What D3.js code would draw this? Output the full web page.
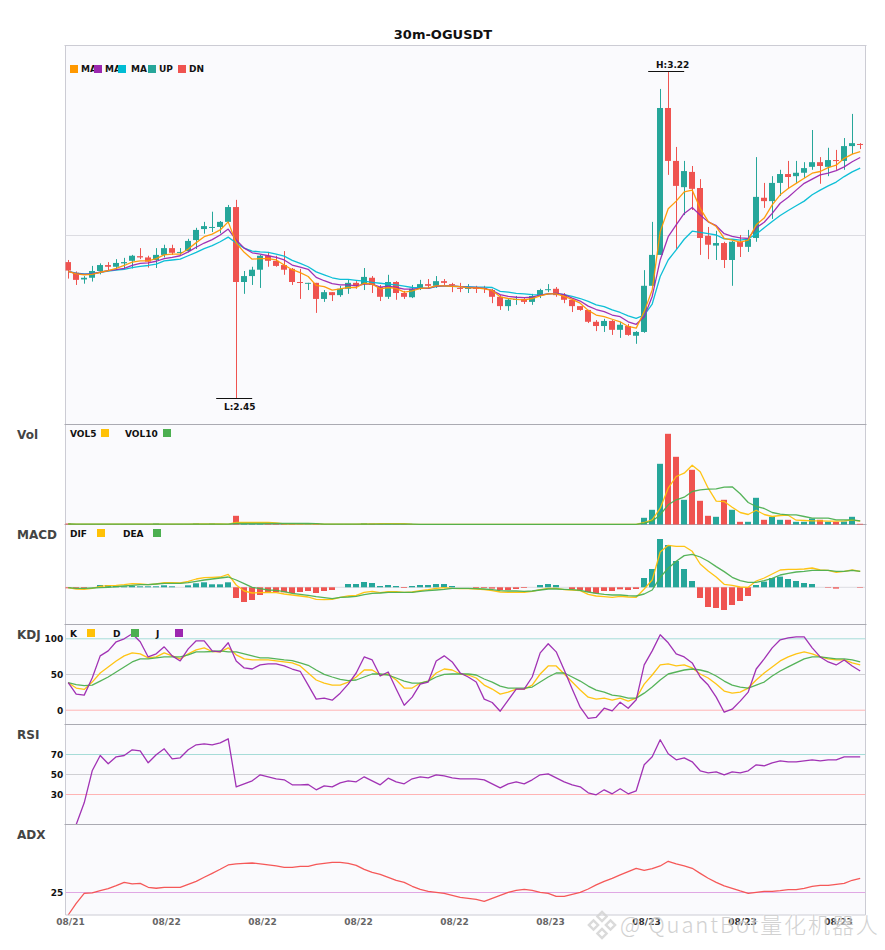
<!DOCTYPE html>
<html>
<head>
<meta charset="utf-8">
<script src="https://cdn.jsdelivr.net/npm/d3@7"></script>
<style>
  html, body { margin: 0; padding: 0; background: #fff; }
  text { font-family: "DejaVu Sans", sans-serif; }
</style>
</head>
<body>
<div id="chart"></div>
<script>
// 30 minute candles
const opens = [2.771,2.746,2.730,2.734,2.750,2.764,2.760,2.768,2.774,2.785,
  2.782,2.776,2.788,2.804,2.793,2.797,2.823,2.849,2.852,2.854,
  2.866,2.901,2.724,2.738,2.753,2.786,2.774,2.764,2.755,2.724,
  2.720,2.722,2.684,2.700,2.693,2.708,2.722,2.719,2.734,2.712,
  2.689,2.724,2.698,2.688,2.708,2.719,2.715,2.726,2.719,2.710,
  2.708,2.710,2.710,2.705,2.689,2.667,2.682,2.684,2.677,2.691,
  2.705,2.708,2.693,2.682,2.667,2.658,2.630,2.620,2.632,2.611,
  2.620,2.597,2.606,2.715,2.788,3.135,3.010,2.948,2.984,2.946,
  2.833,2.810,2.816,2.776,2.819,2.807,2.828,2.923,2.915,2.958,
  2.979,2.974,2.982,2.996,3.007,2.996,3.012,3.010,3.045,3.050];
const closes = [2.751,2.729,2.734,2.750,2.764,2.760,2.769,2.771,2.786,2.782,
  2.772,2.788,2.804,2.793,2.795,2.821,2.847,2.856,2.854,2.866,
  2.901,2.724,2.738,2.753,2.786,2.774,2.762,2.753,2.724,2.722,
  2.722,2.684,2.700,2.693,2.708,2.722,2.715,2.736,2.717,2.689,
  2.724,2.698,2.689,2.708,2.719,2.715,2.726,2.722,2.717,2.708,
  2.710,2.708,2.708,2.689,2.667,2.682,2.684,2.677,2.691,2.705,
  2.707,2.693,2.682,2.667,2.658,2.630,2.620,2.632,2.611,2.623,
  2.599,2.606,2.715,2.788,3.135,3.010,2.951,2.986,2.944,2.828,
  2.812,2.816,2.776,2.819,2.807,2.826,2.925,2.915,2.958,2.979,
  2.972,2.982,2.993,3.007,2.998,3.012,3.010,3.045,3.052,3.048];
const highs = [2.776,2.749,2.738,2.762,2.768,2.771,2.778,2.781,2.788,2.804,
  2.786,2.804,2.812,2.812,2.804,2.826,2.852,2.866,2.890,2.868,
  2.906,2.918,2.750,2.760,2.788,2.795,2.786,2.797,2.757,2.755,
  2.722,2.722,2.705,2.700,2.715,2.729,2.726,2.757,2.738,2.717,
  2.741,2.726,2.703,2.717,2.729,2.731,2.738,2.731,2.722,2.722,
  2.719,2.715,2.715,2.708,2.693,2.684,2.691,2.686,2.696,2.708,
  2.719,2.712,2.698,2.684,2.667,2.658,2.634,2.637,2.634,2.630,
  2.625,2.608,2.752,2.866,3.180,3.220,3.043,3.010,2.998,2.967,
  2.854,2.845,2.819,2.821,2.835,2.847,3.019,2.958,2.974,2.989,
  3.010,3.010,3.007,3.083,3.019,3.041,3.036,3.064,3.121,3.052];
const lows = [2.732,2.717,2.720,2.725,2.742,2.751,2.753,2.756,2.756,2.778,
  2.758,2.757,2.782,2.788,2.788,2.794,2.802,2.838,2.842,2.839,
  2.863,2.450,2.696,2.717,2.710,2.760,2.760,2.741,2.717,2.684,
  2.705,2.651,2.677,2.679,2.689,2.696,2.708,2.705,2.698,2.679,
  2.684,2.682,2.684,2.686,2.705,2.710,2.710,2.717,2.700,2.700,
  2.698,2.698,2.698,2.674,2.658,2.656,2.670,2.672,2.670,2.686,
  2.700,2.689,2.674,2.653,2.656,2.627,2.608,2.606,2.599,2.592,
  2.597,2.578,2.604,2.714,2.788,2.977,2.802,2.882,2.894,2.788,
  2.778,2.776,2.757,2.715,2.783,2.795,2.819,2.899,2.873,2.927,
  2.944,2.958,2.970,2.989,2.956,2.974,2.989,2.989,3.026,3.038];

const ma5 = [2.749,2.743,2.741,2.742,2.747,2.751,2.756,2.763,2.771,2.774,
  2.774,2.779,2.788,2.790,2.790,2.802,2.817,2.831,2.837,2.847,
  2.866,2.816,2.794,2.778,2.779,2.779,2.776,2.764,2.753,2.746,
  2.737,2.716,2.713,2.705,2.708,2.711,2.711,2.721,2.719,2.708,
  2.711,2.709,2.700,2.703,2.709,2.710,2.715,2.715,2.714,2.713,
  2.710,2.710,2.708,2.704,2.689,2.685,2.683,2.682,2.685,2.691,
  2.696,2.696,2.690,2.683,2.674,2.657,2.646,2.642,2.636,2.630,
  2.619,2.615,2.654,2.705,2.843,2.897,2.915,2.937,2.941,2.898,
  2.867,2.855,2.827,2.823,2.818,2.823,2.859,2.875,2.906,2.930,
  2.945,2.957,2.969,2.981,2.985,2.994,3.000,3.016,3.026,3.032];
const ma10 = [2.749,2.744,2.742,2.743,2.747,2.751,2.753,2.756,2.763,2.768,
  2.769,2.773,2.779,2.782,2.786,2.795,2.806,2.816,2.824,2.835,
  2.849,2.823,2.804,2.793,2.790,2.786,2.782,2.776,2.764,2.759,
  2.754,2.735,2.727,2.720,2.717,2.717,2.715,2.719,2.719,2.712,
  2.714,2.711,2.707,2.707,2.709,2.709,2.714,2.715,2.715,2.713,
  2.711,2.711,2.709,2.704,2.694,2.690,2.688,2.687,2.688,2.693,
  2.696,2.697,2.694,2.686,2.679,2.667,2.659,2.654,2.646,2.642,
  2.630,2.624,2.642,2.690,2.776,2.831,2.859,2.886,2.900,2.882,
  2.866,2.857,2.838,2.832,2.828,2.827,2.852,2.865,2.886,2.910,
  2.924,2.941,2.957,2.967,2.977,2.981,2.987,2.996,3.008,3.018];
const ma20 = [2.749,2.745,2.743,2.744,2.747,2.750,2.752,2.754,2.758,2.761,
  2.763,2.766,2.774,2.776,2.778,2.786,2.794,2.803,2.810,2.819,
  2.830,2.816,2.804,2.797,2.795,2.794,2.790,2.785,2.775,2.768,
  2.760,2.748,2.741,2.734,2.730,2.730,2.728,2.726,2.723,2.721,
  2.719,2.717,2.714,2.711,2.710,2.709,2.713,2.715,2.714,2.713,
  2.713,2.712,2.712,2.711,2.702,2.700,2.697,2.696,2.694,2.693,
  2.696,2.697,2.694,2.690,2.685,2.678,2.670,2.666,2.658,2.652,
  2.644,2.638,2.646,2.672,2.737,2.776,2.800,2.825,2.844,2.841,
  2.838,2.835,2.826,2.825,2.823,2.826,2.837,2.852,2.867,2.881,
  2.893,2.904,2.915,2.930,2.941,2.951,2.960,2.973,2.984,2.993];

// volume, no axis in the picture so in arbitrary units
const vol = [1,.3,.3,.3,.3,.3,.3,.3,.3,.3,
  .3,1,.3,.3,.3,.3,1,.3,1,.3,
  .3,8.7,.6,.6,.6,.6,.6,.6,.6,.3,
  .3,1,.3,.3,.3,.3,.3,1.2,.8,.2,
  .2,.2,.2,.2,.2,.2,.2,.2,.2,.2,
  .2,.2,.2,.2,.2,.2,.2,.2,.2,.2,
  .2,.2,.2,.2,.2,.2,.2,.2,.2,.2,
  .2,.2,6.7,14.7,60.7,90.7,67.7,24.7,54.7,23.7,
  8.7,7.7,24.7,14.7,2.7,2.7,26.7,4.7,7.7,4.7,
  4.7,2.7,2.7,6,4.7,2.7,2.7,3,7.7,.7];
const vol5 = [.5,.3,.3,.3,.3,.3,.3,.3,.3,.3,
  .3,.3,.3,.3,.3,.3,.5,.5,.5,.5,
  .3,2,2,2.1,2.2,2.2,1.7,.6,.6,.6,
  .6,.8,.4,.3,.3,.3,.3,.5,.6,.9,
  .9,.9,.8,.3,.2,.2,.2,.2,.2,.2,
  .2,.2,.2,.2,.2,.2,.2,.2,.2,.2,
  .2,.2,.2,.2,.2,.2,.2,.2,.2,.2,
  .2,.2,2,4.7,16.3,36.3,48,51.3,59.3,52.7,
  36.3,23.3,23,17.3,12,10,14.3,10,8,9,
  9.3,4.3,4,3.7,3.7,3.3,3.3,3.7,4.3,3.3];
const vol10 = [.5,.3,.3,.3,.3,.3,.3,.3,.3,.3,
  .3,.3,.3,.3,.3,.3,.3,.3,.3,.3,
  .3,1,1,1,1,1,1,1,1,1,
  1,.8,.3,.3,.3,.3,.3,.3,.4,.4,
  .4,.4,.4,.3,.2,.2,.2,.2,.2,.2,
  .2,.2,.2,.2,.2,.2,.2,.2,.2,.2,
  .2,.2,.2,.2,.2,.2,.2,.2,.2,.2,
  .2,.2,1.3,3.3,9.7,19.7,24.7,27.3,33,34.7,
  35.3,35.7,37.3,37.7,30.7,22,18,16,12,10.3,
  9.7,9.7,8,6.3,6.3,6.3,4.7,4.7,4.7,3.7];

// macd in thousandths-ish units, zero is not centred in the panel
const macdHist = [-1,-1,-1,0,2.3,2.3,1.5,1,1.5,1,
  1,1,2,1,0,2,4,5,3,3,
  5,-10.7,-14.7,-12.7,-7.7,-5,-5,-5,-5.7,-4.7,
  -3.7,-5.7,-3.7,-2.7,0,3.3,3.3,5.3,4.3,1.3,
  2.3,1.3,-.7,1.3,2.3,2.3,3.3,3.3,1.3,0,
  0,-.7,-.7,-1.3,-2.7,-2.7,-1.7,-.7,0,2.3,
  3.3,2.3,0,-2,-2.7,-4.7,-6,-3.7,-3.7,-2,
  -2.7,-1.7,9.3,18.3,48.3,42.3,26.3,18.3,6.3,-10.7,
  -19.7,-20.7,-22.7,-17.7,-13.7,-8.7,2.3,5.7,9.3,10.7,
  8.3,6.3,4.3,3.3,0,-.5,-1.3,0,0,-.5];
const dif = [-.3,-1.7,-2,-1,1,1.7,2,2.7,3.7,3.3,
  2.7,3.3,4.7,4.7,4.3,6,8.3,9.7,10,10.3,
  13,2.3,-3.7,-5.7,-5.3,-5,-5.3,-6.7,-7.7,-8.7,
  -9.7,-12,-12.3,-12,-10,-8.7,-8,-5,-4,-5.3,
  -4.3,-4.3,-5,-4.7,-3.3,-2.3,-1,-.3,-1,-1.3,
  -1.3,-1.7,-2.3,-3.3,-4.7,-5,-5,-5,-4,-2.3,
  -1,-1,-2.3,-2.7,-3.3,-7,-8.7,-9.3,-10,-9,
  -9.7,-10,-1.7,7.3,35.3,42,41,41,36,23.3,
  16.3,10.3,3,2,.3,0,6.3,9.3,13.3,17.3,
  18,18,18.3,19.3,17.3,17,15,16,17.3,16];
const dea = [-.3,-1,-1,-.7,-.3,0,.7,1.3,2,2.7,
  2.7,3.3,4,4,4,4.7,6,7.3,8.3,9.3,
  10.3,7.3,3.7,0,-1.3,-2.7,-3,-4.3,-6,-7,
  -8,-9.3,-10.3,-11.3,-10,-9.7,-9,-7.3,-6,-5.7,
  -5,-5,-5,-5,-4,-3.3,-2.7,-2,-1,-1,
  -1,-1.3,-1.7,-2.3,-3.3,-3.7,-3.7,-4,-3.7,-2.7,
  -1.7,-1.7,-2,-2.3,-3,-4.7,-6,-7,-7.7,-7.7,
  -8.3,-8.7,-6.7,-2.7,10,19,26,31.7,33,30.3,
  26,20.7,15.7,10,6.7,5,5,6.7,9,12.3,
  14,15.3,16,17,17,17,16,16,17,16];

const kdjK = [38.5,31,29.1,39.4,52.1,60.6,69,76.1,80.3,78.9,
  73.2,74.6,80.3,76.1,71.8,78.9,84.5,87.3,82.2,81.7,
  87.3,77.5,71.8,70.4,70.4,70.4,69,67.6,66.2,62,
  52.1,42.3,38,35.2,35.2,39.4,46.5,56.3,56.3,49.3,
  50.7,42.3,31,31,38,40.8,52.1,57.7,56.3,50.7,
  49.3,45.1,35.2,29.6,22.5,25.4,29.6,29.6,35.2,50.7,
  62,62,50.7,39.4,28.2,18.3,15.5,16.9,14.1,16.9,
  12.7,16.9,36.6,49.3,63.4,64.8,62,63.4,59.2,50.7,
  45.1,36.6,26.8,23.9,25.4,31,42.3,52.1,60.6,69,
  74.6,78.9,81.7,78.9,74.6,71.8,70.4,70.4,66.2,63.4];
const kdjD = [38.5,35.7,34.3,35.2,40.8,46.5,53.5,60.6,67.6,71.8,
  71.8,73.2,74.6,74.6,74.6,77.5,81.7,81.7,82.2,83.1,
  81.7,81.7,78.9,76.1,73.2,73.2,71.8,70.4,69.5,66.2,
  62.9,56.3,50.2,46.5,43.2,41.3,42.3,46.5,50.7,50.7,
  49.3,45.1,40.8,38,38,40.8,46.5,50.2,50.7,50.7,
  50.7,49.3,43.7,39.4,33.8,31,31,31,32.4,39.4,
  46.5,52.1,52.1,46.5,40.8,33.8,28.2,25.4,21.1,19.7,
  16.9,16.9,23.9,32.4,42.3,50.7,53.5,56.3,57.7,56.3,
  53.5,47.9,40.8,35.2,32.4,31,35.2,39.4,47.9,54.9,
  60.6,66.2,71.8,74.6,74.6,73.2,71.8,71.8,70.4,67.6];
const kdjJ = [38.5,22.5,21.1,45.1,76.1,83.1,95.8,100,107,95.8,
  74.6,78.9,88.7,76.1,69,85.9,97.2,97.2,83.1,81.7,
  94.4,69,59.2,57.7,63.4,64.8,64.8,62,57.7,54.5,
  35.2,15.5,16.9,14.1,23.9,36.6,52.1,74.6,70.4,47.9,
  53.5,29.6,7,18.3,36.6,39.4,69,76.1,67.6,52.1,
  46.5,39.4,15.5,10.8,-1.4,14.1,29.6,29.6,46.5,80.3,
  93,81.7,56.3,29.6,4.2,-11.3,-9.9,2.8,-.9,11.3,
  2.8,14.6,63.4,83.1,105.6,94.4,78.9,74.6,66.2,46.5,
  35.2,18.3,-2.8,1.4,12.7,25.4,57.7,71.8,87.3,98.6,
  101.4,102.8,102.8,87.3,74.6,67.6,63.4,70.4,62,54.9];

// first candle has no rsi yet
const rsi = [null,0,21.7,53.7,69,60.7,67.7,69,74.7,73.7,
  61.7,69.7,75.7,65.7,66.7,74.7,79.7,80.7,79.7,81.7,
  85.7,37.7,40.7,43.7,49.7,47.7,45.7,44.7,39.7,39.7,
  40,34.7,38.7,37.7,41.7,43.7,42.7,47.7,43.7,39.7,
  46.3,42.7,40.7,45.7,47.7,46.7,49.7,48.7,46.7,45.7,
  45.7,45.7,44.7,40.7,36.7,40.7,42.7,40.7,44.7,49.7,
  50.7,46.7,42.7,39.7,37.7,31.7,29.7,34.7,30.7,35.7,
  30.7,33.7,59.7,67.7,84.7,70.7,64.7,66.7,62.7,53.7,
  51.7,52.7,49.7,52.7,51.7,53.7,59.7,58.7,61.7,63.7,
  62.7,62.7,63.7,64.7,63.7,64.7,64.7,67.7,67.7,67.7];
const adx = [0,13,24.1,24.5,27.1,29.3,32.6,36.3,34.5,35.2,
  30.8,29.7,30.8,30.8,30.8,34.1,37.4,41.9,46.3,50.8,
  55.6,56.7,57.4,57.8,56.7,55.6,54.5,53,53,54.1,
  54.1,56.3,57.4,58.5,58.5,57.4,55.2,50.7,47.4,45.2,
  41.9,38.5,36.3,31.9,28.5,26.3,25.2,24.1,21.8,19.6,
  18.5,17.4,15.2,18.5,21.8,25.2,27.4,28.5,27.4,25.2,
  24.1,20.7,20.7,23,25.2,28.9,33.4,37.4,40.8,44.5,
  48.2,51.9,49.7,51.5,54.5,59.7,56.7,54.5,51.9,46.3,
  40.8,36.3,32.3,29.7,26.7,24.1,25.2,26.3,26.3,27.1,
  28.2,28.2,29.7,31.9,33,33,34.1,35.2,38.6,40.8];

const tickLabels = ["08/21","08/22","08/22","08/22","08/22","08/23","08/23","08/23","08/23"];

const width = 885, height = 950;
const up = "#26a69a", dn = "#ef5350";
const orange = "#ff9800", purple = "#9c27b0", cyan = "#00bcd4";
const yellow = "#ffc107", green = "#4caf50";
const left = 65.5, right = 865.5;

const svg = d3.select("#chart").append("svg")
  .attr("width", width).attr("height", height)
  .style("display", "block");

const x = d3.scaleLinear().domain([0, 99]).range([68.2, 860.2]);

// one clip + background per panel
function panel(name, top, bottom, lineColor) {
  svg.append("rect").attr("x", left).attr("y", top)
    .attr("width", right - left).attr("height", bottom - top)
    .attr("fill", "#fafafd");
  svg.append("clipPath").attr("id", "clip-" + name).append("rect")
    .attr("x", left).attr("y", top).attr("width", right - left).attr("height", bottom - top + 1);
  svg.append("line").attr("x1", left).attr("x2", left).attr("y1", top).attr("y2", bottom)
    .attr("stroke", "#ccccd4");
  svg.append("line").attr("x1", right).attr("x2", right).attr("y1", top).attr("y2", bottom)
    .attr("stroke", "#ccccd4");
  svg.append("line").attr("x1", left - 1).attr("x2", right + 1).attr("y1", top).attr("y2", top)
    .attr("stroke", lineColor);
  return svg.append("g").attr("clip-path", `url(#clip-${name})`);
}

function drawLine(g, y, values, color, w) {
  const line = d3.line()
    .defined(d => d !== null)
    .x((d, i) => x(i))
    .y(d => y(d));
  g.append("path").datum(values)
    .attr("fill", "none").attr("stroke", color)
    .attr("stroke-width", w || 1.3).attr("stroke-linejoin", "round")
    .attr("stroke-opacity", 0.95)
    .attr("d", line);
}

function hline(g, y, value, color) {
  g.append("line").attr("x1", left).attr("x2", right)
    .attr("y1", y(value)).attr("y2", y(value))
    .attr("stroke", color).attr("stroke-width", 1);
}

function legendText(label, px, py) {
  svg.append("text").attr("x", px).attr("y", py).attr("dy", "0.35em")
    .attr("font-size", 9).attr("font-weight", "bold").attr("fill", "#111").text(label);
}
function legendBox(color, px, py) {
  svg.append("rect").attr("x", px).attr("y", py - 4).attr("width", 8).attr("height", 8).attr("fill", color);
}
function panelTitle(label, py) {
  svg.append("text").attr("x", 17).attr("y", py).attr("dy", "0.35em")
    .attr("font-size", 12).attr("font-weight", "bold").attr("fill", "#444").text(label);
}
function yAxis(y, values) {
  const g = svg.append("g")
    .attr("transform", `translate(${left - 2.2},0)`)
    .call(d3.axisLeft(y).tickValues(values).tickSize(0).tickPadding(0));
  g.select(".domain").remove();
  g.selectAll("text").attr("font-size", 9).attr("font-weight", "bold").attr("fill", "#111")
    .style("font-family", '"DejaVu Sans", sans-serif');
}

svg.append("text").attr("x", 443).attr("y", 38.5)
  .attr("text-anchor", "middle").attr("font-size", 13).attr("font-weight", "bold").attr("fill", "#111")
  .text("30m-OGUSDT");

// ---- price panel
const gMain = panel("main", 45.5, 424.5, "#ccccd4");
const yPrice = d3.scaleLinear().domain([2.45, 3.22]).range([398, 72]);

gMain.append("line").attr("x1", left).attr("x2", right).attr("y1", 235.5).attr("y2", 235.5)
  .attr("stroke", "#dcdce2");

const candles = d3.range(opens.length);
gMain.selectAll(".wick").data(candles).enter().append("line")
  .attr("class", "wick")
  .attr("x1", i => Math.round(x(i)) + 0.5).attr("x2", i => Math.round(x(i)) + 0.5)
  .attr("y1", i => yPrice(highs[i])).attr("y2", i => yPrice(lows[i]))
  .attr("stroke", i => closes[i] >= opens[i] ? up : dn);
gMain.selectAll(".body").data(candles).enter().append("rect")
  .attr("class", "body")
  .attr("x", i => Math.round(x(i)) - 3).attr("width", 6)
  .attr("y", i => yPrice(Math.max(opens[i], closes[i])))
  .attr("height", i => Math.max(1, Math.abs(yPrice(opens[i]) - yPrice(closes[i]))))
  .attr("fill", i => closes[i] >= opens[i] ? up : dn);

drawLine(gMain, yPrice, ma20, cyan);
drawLine(gMain, yPrice, ma10, purple);
drawLine(gMain, yPrice, ma5, orange);

// high / low markers
const hiIdx = d3.maxIndex(highs), loIdx = d3.minIndex(lows);
svg.append("line").attr("x1", x(hiIdx) - 20).attr("x2", x(hiIdx) + 16)
  .attr("y1", yPrice(highs[hiIdx]) - 0.5).attr("y2", yPrice(highs[hiIdx]) - 0.5).attr("stroke", "#111");
svg.append("text").attr("x", x(hiIdx) + 4.5).attr("y", yPrice(highs[hiIdx]) - 7).attr("dy", "0.35em")
  .attr("text-anchor", "middle").attr("font-size", 9).attr("font-weight", "bold").attr("fill", "#111")
  .text("H:" + highs[hiIdx].toFixed(2));
svg.append("line").attr("x1", x(loIdx) - 20).attr("x2", x(loIdx) + 16)
  .attr("y1", yPrice(lows[loIdx]) + 0.5).attr("y2", yPrice(lows[loIdx]) + 0.5).attr("stroke", "#111");
svg.append("text").attr("x", x(loIdx) + 3.5).attr("y", yPrice(lows[loIdx]) + 9).attr("dy", "0.35em")
  .attr("text-anchor", "middle").attr("font-size", 9).attr("font-weight", "bold").attr("fill", "#111")
  .text("L:" + lows[loIdx].toFixed(2));

// the boxes sit on top of the MA labels, that is how the source looks
legendText("MA", 81, 69); legendText("MA", 105, 69); legendText("MA", 131, 69);
legendText("UP", 159, 69); legendText("DN", 189, 69);
legendBox(orange, 70, 69); legendBox(purple, 94, 69); legendBox(cyan, 118, 69);
legendBox(up, 148, 69); legendBox(dn, 178, 69);

// ---- volume
const gVol = panel("vol", 424.5, 524.5, "#aaaab2");
const yVol = d3.scaleLinear().domain([0, 100]).range([524.5, 424.5]);
gVol.selectAll(".bar").data(vol).enter().append("rect")
  .attr("x", (d, i) => Math.round(x(i)) - 3).attr("width", 6)
  .attr("y", d => yVol(d)).attr("height", d => yVol(0) - yVol(d))
  .attr("fill", (d, i) => closes[i] >= opens[i] ? up : dn);
drawLine(gVol, yVol, vol5, yellow);
drawLine(gVol, yVol, vol10, green);
panelTitle("Vol", 434.5);
legendText("VOL5", 70, 433.5); legendBox(yellow, 101, 433);
legendText("VOL10", 125, 433.5); legendBox(green, 163, 433);

// ---- macd
const gMacd = panel("macd", 524.5, 624.5, "#aaaab2");
const yMacd = d3.scaleLinear().domain([-37.2, 62.8]).range([624.5, 524.5]);
hline(gMacd, yMacd, 0, "#dcdce2");
gMacd.selectAll(".bar").data(macdHist).enter().append("rect")
  .attr("x", (d, i) => Math.round(x(i)) - 3).attr("width", 6)
  .attr("y", d => Math.min(yMacd(d), yMacd(0)))
  .attr("height", d => Math.abs(yMacd(d) - yMacd(0)))
  .attr("fill", d => d >= 0 ? up : dn);
drawLine(gMacd, yMacd, dif, yellow);
drawLine(gMacd, yMacd, dea, green);
panelTitle("MACD", 534.5);
legendText("DIF", 70, 533.5); legendBox(yellow, 97, 533);
legendText("DEA", 123, 533.5); legendBox(green, 153, 533);
// the macd background would hide the flat volume lines
gVol.raise();

// ---- kdj
const gKdj = panel("kdj", 624.5, 724.5, "#aaaab2");
const yKdj = d3.scaleLinear().domain([-20, 120]).range([724.5, 624.5]);
hline(gKdj, yKdj, 100, "#a6dcd8");
hline(gKdj, yKdj, 50, "#d0d0d4");
hline(gKdj, yKdj, 0, "#ffb4b4");
drawLine(gKdj, yKdj, kdjK, yellow);
drawLine(gKdj, yKdj, kdjD, green);
drawLine(gKdj, yKdj, kdjJ, purple);
panelTitle("KDJ", 634.5);
yAxis(yKdj, [0, 50, 100]);
legendText("K", 70, 633.5); legendBox(yellow, 87, 633);
legendText("D", 113, 633.5); legendBox(green, 131, 633);
legendText("J", 156, 633.5); legendBox(purple, 175, 633);

// ---- rsi
const gRsi = panel("rsi", 724.5, 824.5, "#aaaab2");
const yRsi = d3.scaleLinear().domain([0, 100]).range([824.5, 724.5]);
hline(gRsi, yRsi, 70, "#a6dcd8");
hline(gRsi, yRsi, 50, "#d0d0d4");
hline(gRsi, yRsi, 30, "#ffb4b4");
drawLine(gRsi, yRsi, rsi, purple);
panelTitle("RSI", 734.5);
yAxis(yRsi, [30, 50, 70]);

// ---- adx
const gAdx = panel("adx", 824.5, 915, "#aaaab2");
const yAdx = d3.scaleLinear().domain([0, 100]).range([915, 825]);
hline(gAdx, yAdx, 25, "#e0a8e4");
drawLine(gAdx, yAdx, adx, "#f44f4f");
panelTitle("ADX", 834.5);
yAxis(yAdx, [25]);
svg.append("line").attr("x1", left).attr("x2", right).attr("y1", 915).attr("y2", 915)
  .attr("stroke", "#ccccd4");

// shared time axis, one label per 12 candles
const xAxis = d3.axisBottom(x)
  .tickValues(tickLabels.map((d, i) => i * 12))
  .tickFormat((d, i) => tickLabels[i])
  .tickSize(0).tickPadding(3.5);
const gx = svg.append("g").attr("transform", "translate(1.8,915)").call(xAxis);
gx.select(".domain").remove();
gx.selectAll("text").attr("font-size", 9).attr("font-weight", "bold")
  .attr("fill", (d, i) => i >= 6 ? "#333" : "#666")
  .style("font-family", '"DejaVu Sans", sans-serif');

// watermark, sits over the last labels
const wm = svg.append("g").attr("opacity", 0.85);
const logo = wm.append("g").attr("transform", "translate(602,925)")
  .attr("fill", "none").attr("stroke", "#d4d4d4").attr("stroke-width", 2.4);
[[0, -8.5], [-8.5, 0], [8.5, 0], [0, 8.5]].forEach(p => {
  logo.append("path").attr("transform", `translate(${p[0]},${p[1]})`)
    .attr("d", "M0,-4.6L4.6,0L0,4.6L-4.6,0Z");
});
wm.append("text").attr("x", 620).attr("y", 932.5)
  .attr("font-size", 22).attr("fill", "#cacaca").attr("letter-spacing", 1.9)
  .attr("stroke", "#fff").attr("stroke-opacity", 0.5).attr("stroke-width", 1.5)
  .attr("paint-order", "stroke")
  .style("font-family", '"Noto Sans CJK SC", "Noto Sans", sans-serif')
  .style("font-weight", 300)
  .text("@ QuantBot量化机器人");
</script>
</body>
</html>
